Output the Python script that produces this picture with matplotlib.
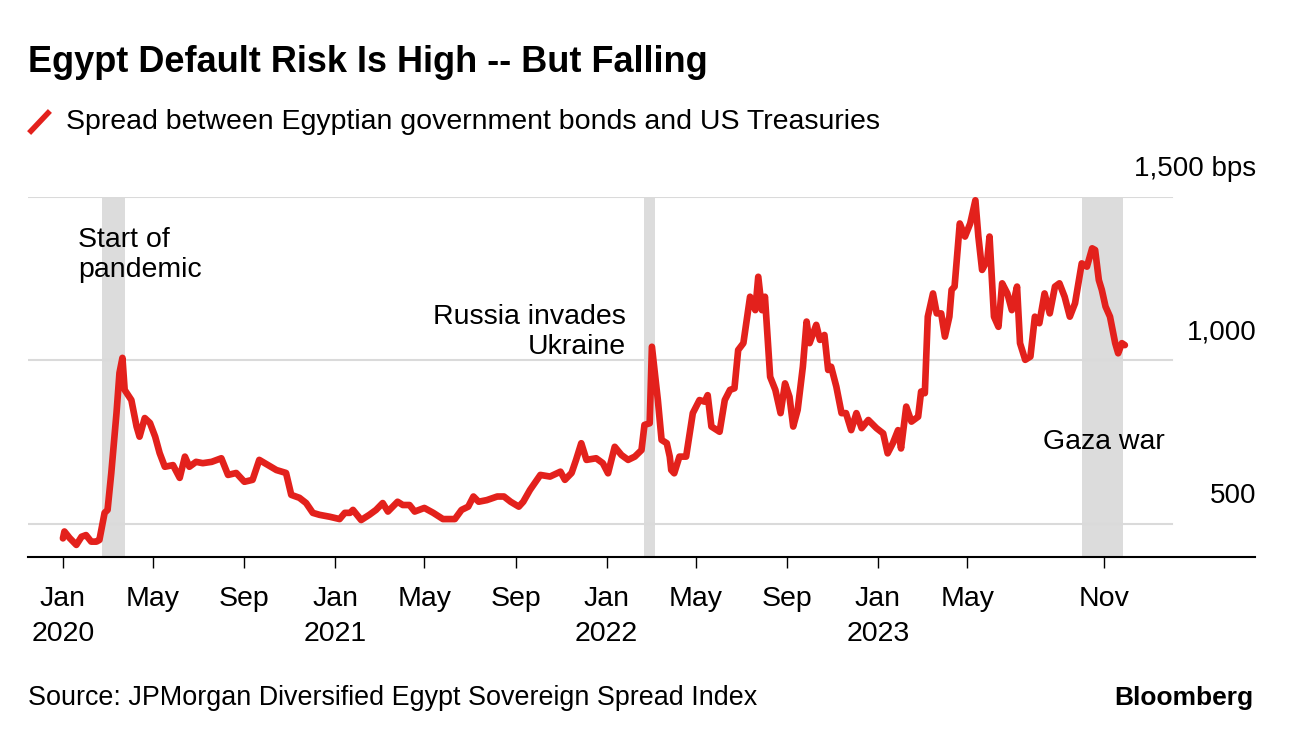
import pandas as pd
import matplotlib.pyplot as plt
from matplotlib.lines import Line2D

plt.rcParams['font.family'] = ['Liberation Sans', 'DejaVu Sans']

# spread readings (bps)
dates = [
    '2020-01-01', '2020-01-03', '2020-01-10', '2020-01-19', '2020-01-26', '2020-02-01',
    '2020-02-08', '2020-02-15', '2020-02-19', '2020-02-26', '2020-03-01', '2020-03-06',
    '2020-03-13', '2020-03-17', '2020-03-21', '2020-03-24', '2020-04-02', '2020-04-09',
    '2020-04-13', '2020-04-20', '2020-04-27', '2020-05-04', '2020-05-10', '2020-05-17',
    '2020-05-28', '2020-06-06', '2020-06-13', '2020-06-19', '2020-06-28', '2020-07-07',
    '2020-07-19', '2020-08-01', '2020-08-10', '2020-08-21', '2020-09-01', '2020-09-12',
    '2020-09-21', '2020-10-03', '2020-10-14', '2020-10-27', '2020-11-03', '2020-11-14',
    '2020-11-23', '2020-12-02', '2020-12-11', '2020-12-25', '2021-01-07', '2021-01-14',
    '2021-01-21', '2021-01-25', '2021-02-05', '2021-02-16', '2021-02-25', '2021-03-06',
    '2021-03-13', '2021-03-26', '2021-04-02', '2021-04-11', '2021-04-18', '2021-05-01',
    '2021-05-13', '2021-05-26', '2021-06-11', '2021-06-20', '2021-06-29', '2021-07-06',
    '2021-07-13', '2021-07-24', '2021-08-07', '2021-08-16', '2021-08-25', '2021-09-05',
    '2021-09-11', '2021-09-20', '2021-10-04', '2021-10-17', '2021-10-31', '2021-11-06',
    '2021-11-15', '2021-11-21', '2021-11-28', '2021-12-05', '2021-12-18', '2021-12-27',
    '2022-01-03', '2022-01-12', '2022-01-21', '2022-01-30', '2022-02-08', '2022-02-17',
    '2022-02-21', '2022-02-28', '2022-03-03', '2022-03-11', '2022-03-16', '2022-03-23',
    '2022-03-27', '2022-03-29', '2022-04-02', '2022-04-09', '2022-04-18', '2022-04-27',
    '2022-05-06', '2022-05-13', '2022-05-17', '2022-05-22', '2022-06-02', '2022-06-09',
    '2022-06-16', '2022-06-22', '2022-06-27', '2022-07-04', '2022-07-13', '2022-07-20',
    '2022-07-24', '2022-07-29', '2022-08-02', '2022-08-09', '2022-08-16', '2022-08-23',
    '2022-08-25', '2022-08-29', '2022-09-04', '2022-09-09', '2022-09-15', '2022-09-22',
    '2022-09-27', '2022-10-01', '2022-10-10', '2022-10-15', '2022-10-21', '2022-10-26',
    '2022-10-30', '2022-11-06', '2022-11-13', '2022-11-19', '2022-11-26', '2022-12-03',
    '2022-12-10', '2022-12-19', '2022-12-30', '2023-01-08', '2023-01-14', '2023-01-21',
    '2023-01-28', '2023-02-01', '2023-02-08', '2023-02-15', '2023-02-24', '2023-02-28',
    '2023-03-05', '2023-03-09', '2023-03-16', '2023-03-21', '2023-03-27', '2023-04-01',
    '2023-04-07', '2023-04-10', '2023-04-14', '2023-04-21', '2023-04-28', '2023-05-05',
    '2023-05-12', '2023-05-16', '2023-05-21', '2023-05-28', '2023-05-31', '2023-06-06',
    '2023-06-12', '2023-06-17', '2023-06-24', '2023-06-30', '2023-07-07', '2023-07-11',
    '2023-07-18', '2023-07-25', '2023-07-31', '2023-08-06', '2023-08-13', '2023-08-20',
    '2023-08-27', '2023-09-02', '2023-09-09', '2023-09-16', '2023-09-23', '2023-10-02',
    '2023-10-09', '2023-10-16', '2023-10-20', '2023-10-25', '2023-10-29', '2023-11-03',
    '2023-11-09', '2023-11-16', '2023-11-20', '2023-11-25', '2023-11-29',
]
spread = [
    456, 477, 457, 436, 461, 466,
    446, 446, 451, 534, 543, 656,
    839, 962, 1008, 910, 879, 798,
    767, 824, 809, 767, 717, 675,
    680, 641, 706, 675, 690, 686,
    690, 701, 650, 656, 629, 635,
    696, 680, 665, 656, 589, 580,
    564, 534, 528, 522, 515, 534,
    534, 543, 512, 528, 543, 564,
    538, 568, 558, 558, 538, 549,
    534, 515, 515, 543, 553, 584,
    568, 573, 584, 584, 568, 553,
    568, 604, 650, 645, 660, 635,
    656, 696, 747, 696, 701, 686,
    655, 736, 711, 696, 706, 726,
    803, 808, 1042, 879, 757, 747,
    706, 665, 655, 706, 706, 839,
    879, 874, 894, 798, 782, 879,
    910, 915, 1032, 1053, 1195, 1154,
    1256, 1154, 1195, 950, 910, 839,
    869, 930, 889, 798, 849, 981,
    1119, 1053, 1109, 1063, 1078, 971,
    981, 920, 839, 839, 787, 839,
    793, 818, 793, 777, 716, 747,
    787, 731, 859, 813, 828, 905,
    900, 1134, 1205, 1144, 1144, 1073,
    1134, 1216, 1226, 1419, 1379, 1419,
    1490, 1379, 1277, 1307, 1379, 1134,
    1103, 1236, 1205, 1154, 1226, 1053,
    1002, 1012, 1134, 1114, 1205, 1144,
    1226, 1236, 1195, 1134, 1175, 1297,
    1287, 1343, 1338, 1246, 1216, 1165,
    1134, 1053, 1022, 1053, 1047,
]

events = ['Start of\npandemic', 'Russia invades\nUkraine', 'Gaza war']
event_start = ['2020-02-23', '2022-02-21', '2023-10-02']
event_end = ['2020-03-24', '2022-03-07', '2023-11-26']

tick_dates = ['2020-01-01', '2020-05-01', '2020-09-01', '2021-01-01', '2021-05-01', '2021-09-01',
              '2022-01-01', '2022-05-01', '2022-09-01', '2023-01-01', '2023-05-01', '2023-11-01']
tick_labels = ['Jan\n2020', 'May', 'Sep', 'Jan\n2021', 'May', 'Sep',
               'Jan\n2022', 'May', 'Sep', 'Jan\n2023', 'May', 'Nov']
grid_values = [500, 1000, 1500]
grid_labels = ['500', '1,000', '1,500 bps']

RED = '#e3211c'
W, H = 1292, 742
FS = 20.5

fig = plt.figure(figsize=(W / 100, H / 100), dpi=100)
ax = fig.add_axes([28 / W, 185 / H, (1255 - 28) / W, (557 - 197) / H])

x = pd.to_datetime(dates)

# shaded event windows
for s, e in zip(event_start, event_end):
    ax.axvspan(pd.Timestamp(s), pd.Timestamp(e), color='#dcdcdc', lw=0, zorder=0)

# gridlines stop short of the right-hand labels
for v, lab in zip(grid_values, grid_labels):
    ax.axhline(v, xmin=0, xmax=(1172 - 28) / (1255 - 28), color='#dadada', lw=1.5, zorder=1)
    ax.annotate(lab, xy=(1.0, v), xycoords=('axes fraction', 'data'),
                xytext=(1, 20), textcoords='offset points',
                ha='right', va='center', fontsize=20)

ax.plot(x, spread, color=RED, lw=4.8, solid_joinstyle='round', solid_capstyle='round',
        zorder=3, clip_on=False)

ax.set_xlim(pd.Timestamp('2019-11-15'), pd.Timestamp('2024-05-22'))
ax.set_ylim(399, 1500)

for sp in ['top', 'left', 'right']:
    ax.spines[sp].set_visible(False)
ax.spines['bottom'].set_linewidth(1.5)
ax.set_yticks([])
ax.set_xticks(pd.to_datetime(tick_dates))
ax.set_xticklabels(tick_labels, fontsize=FS, linespacing=1.42, va='top')
ax.tick_params(axis='x', direction='out', length=8, width=1, pad=13)

# event labels
ax.text(pd.Timestamp('2020-01-21'), 1323, events[0], fontsize=FS, ha='left', va='center',
        linespacing=1.2)
ax.text(pd.Timestamp('2022-01-27'), 1086, events[1], fontsize=FS, ha='right', va='center',
        linespacing=1.2)
ax.text(pd.Timestamp('2023-11-01'), 751, events[2], fontsize=FS, ha='center', va='center')

# header and footer
fig.text(28 / W, 1 - 62 / H, 'Egypt Default Risk Is High -- But Falling',
         fontsize=26, fontweight='bold', va='center')
fig.add_artist(Line2D([31 / W, 48 / W], [1 - 131 / H, 1 - 113 / H], color=RED, lw=4,
                      transform=fig.transFigure))
fig.text(66 / W, 1 - 122 / H, 'Spread between Egyptian government bonds and US Treasuries',
         fontsize=FS, va='center')
fig.text(28 / W, 1 - 698 / H, 'Source: JPMorgan Diversified Egypt Sovereign Spread Index',
         fontsize=19.4, va='center')
fig.text(1253 / W, 1 - 698 / H, 'Bloomberg', fontsize=19, fontweight='bold',
         ha='right', va='center')

fig.savefig('out.png', dpi=100)
